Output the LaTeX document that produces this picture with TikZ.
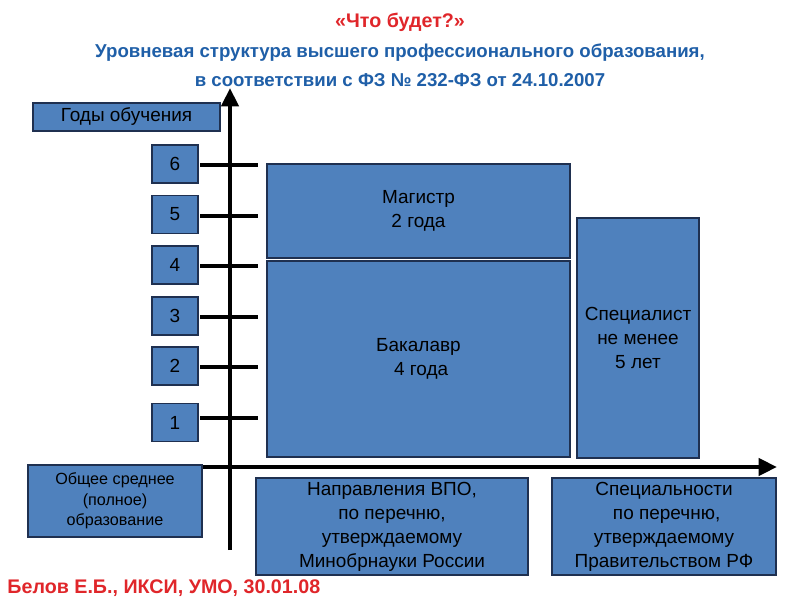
\documentclass[tikz,border=0pt]{standalone}
\usepackage{fontspec}
\setmainfont{Liberation Sans}
\usetikzlibrary{arrows.meta}
\definecolor{boxfill}{HTML}{4F81BD}
\definecolor{boxline}{HTML}{1F3050}
\definecolor{ttl}{HTML}{1F5FA8}
\definecolor{redt}{HTML}{E0262A}
\tikzset{bx/.style={draw=boxline,line width=2pt,fill=boxfill,align=center,font=\fontsize{27}{34}\selectfont,inner sep=0pt},
axis/.style={line width=6pt,-{Triangle[length=26pt,width=24pt]}},
tk/.style={line width=6pt}}
\begin{document}
\begin{tikzpicture}[x=0.05cm,y=-0.05cm]
\useasboundingbox (0,0) rectangle (800,600);
\fill[white] (0,0) rectangle (800,600);
\node[font=\bfseries\fontsize{28}{33}\selectfont,text=redt] (t0) at (400,22) {«Что будет?»};
\node[font=\bfseries\fontsize{26.5}{31}\selectfont,text=ttl] (t1) at (400,53) {Уровневая структура высшего профессионального образования,};
\node[font=\bfseries\fontsize{26.5}{31}\selectfont,text=ttl] (t2) at (400,80) {в соответствии с ФЗ № 232-ФЗ от 24.10.2007};
\node[bx,minimum width=187*0.05cm,minimum height=28*0.05cm] (g) at (126.5,117) {Годы обучения};
\foreach \n/\y in {6/164,5/214.5,4/265,3/316,2/366,1/422.5}{
 \node[bx,minimum width=46*0.05cm,minimum height=38*0.05cm] (n\n) at (175,\y) {\n};
}
\foreach \n/\y in {6/165,5/216,4/266,3/317,2/367,1/418}{
 \coordinate (a\n) at (200,\y); \coordinate (b\n) at (258,\y);
 \draw[tk] (a\n) -- (b\n);
}
\coordinate (v0) at (230,550); \coordinate (v1) at (230,88);
\coordinate (h0) at (200,467); \coordinate (h1) at (777,467);
\draw[axis] (v0) -- (v1);
\draw[axis] (h0) -- (h1);
\node[bx,minimum width=303*0.05cm,minimum height=94*0.05cm] (m) at (418.5,211) {Магистр\\2 года};
\node[bx,minimum width=303*0.05cm,minimum height=196*0.05cm] (b) at (418.5,359) {Бакалавр\\\ 4 года};
\node[bx,minimum width=122*0.05cm,minimum height=240*0.05cm] (s) at (638,338) {Специалист\\не менее\\5 лет};
\node[bx,minimum width=174*0.05cm,minimum height=72*0.05cm,font=\fontsize{23}{29}\selectfont] (o) at (115,501) {Общее среднее\\(полное)\\образование};
\node[bx,minimum width=272*0.05cm,minimum height=97*0.05cm] (d) at (392,526.5) {Направления ВПО,\\по перечню,\\утверждаемому\\Минобрнауки России};
\node[bx,minimum width=224*0.05cm,minimum height=97*0.05cm] (sp) at (664,526.5) {Специальности\\\ по перечню,\\утверждаемому\\Правительством РФ};
\node[anchor=west,font=\bfseries\fontsize{28}{33}\selectfont,text=redt] (f) at (5,588) {Белов Е.Б., ИКСИ, УМО, 30.01.08};
\end{tikzpicture}
\end{document}
